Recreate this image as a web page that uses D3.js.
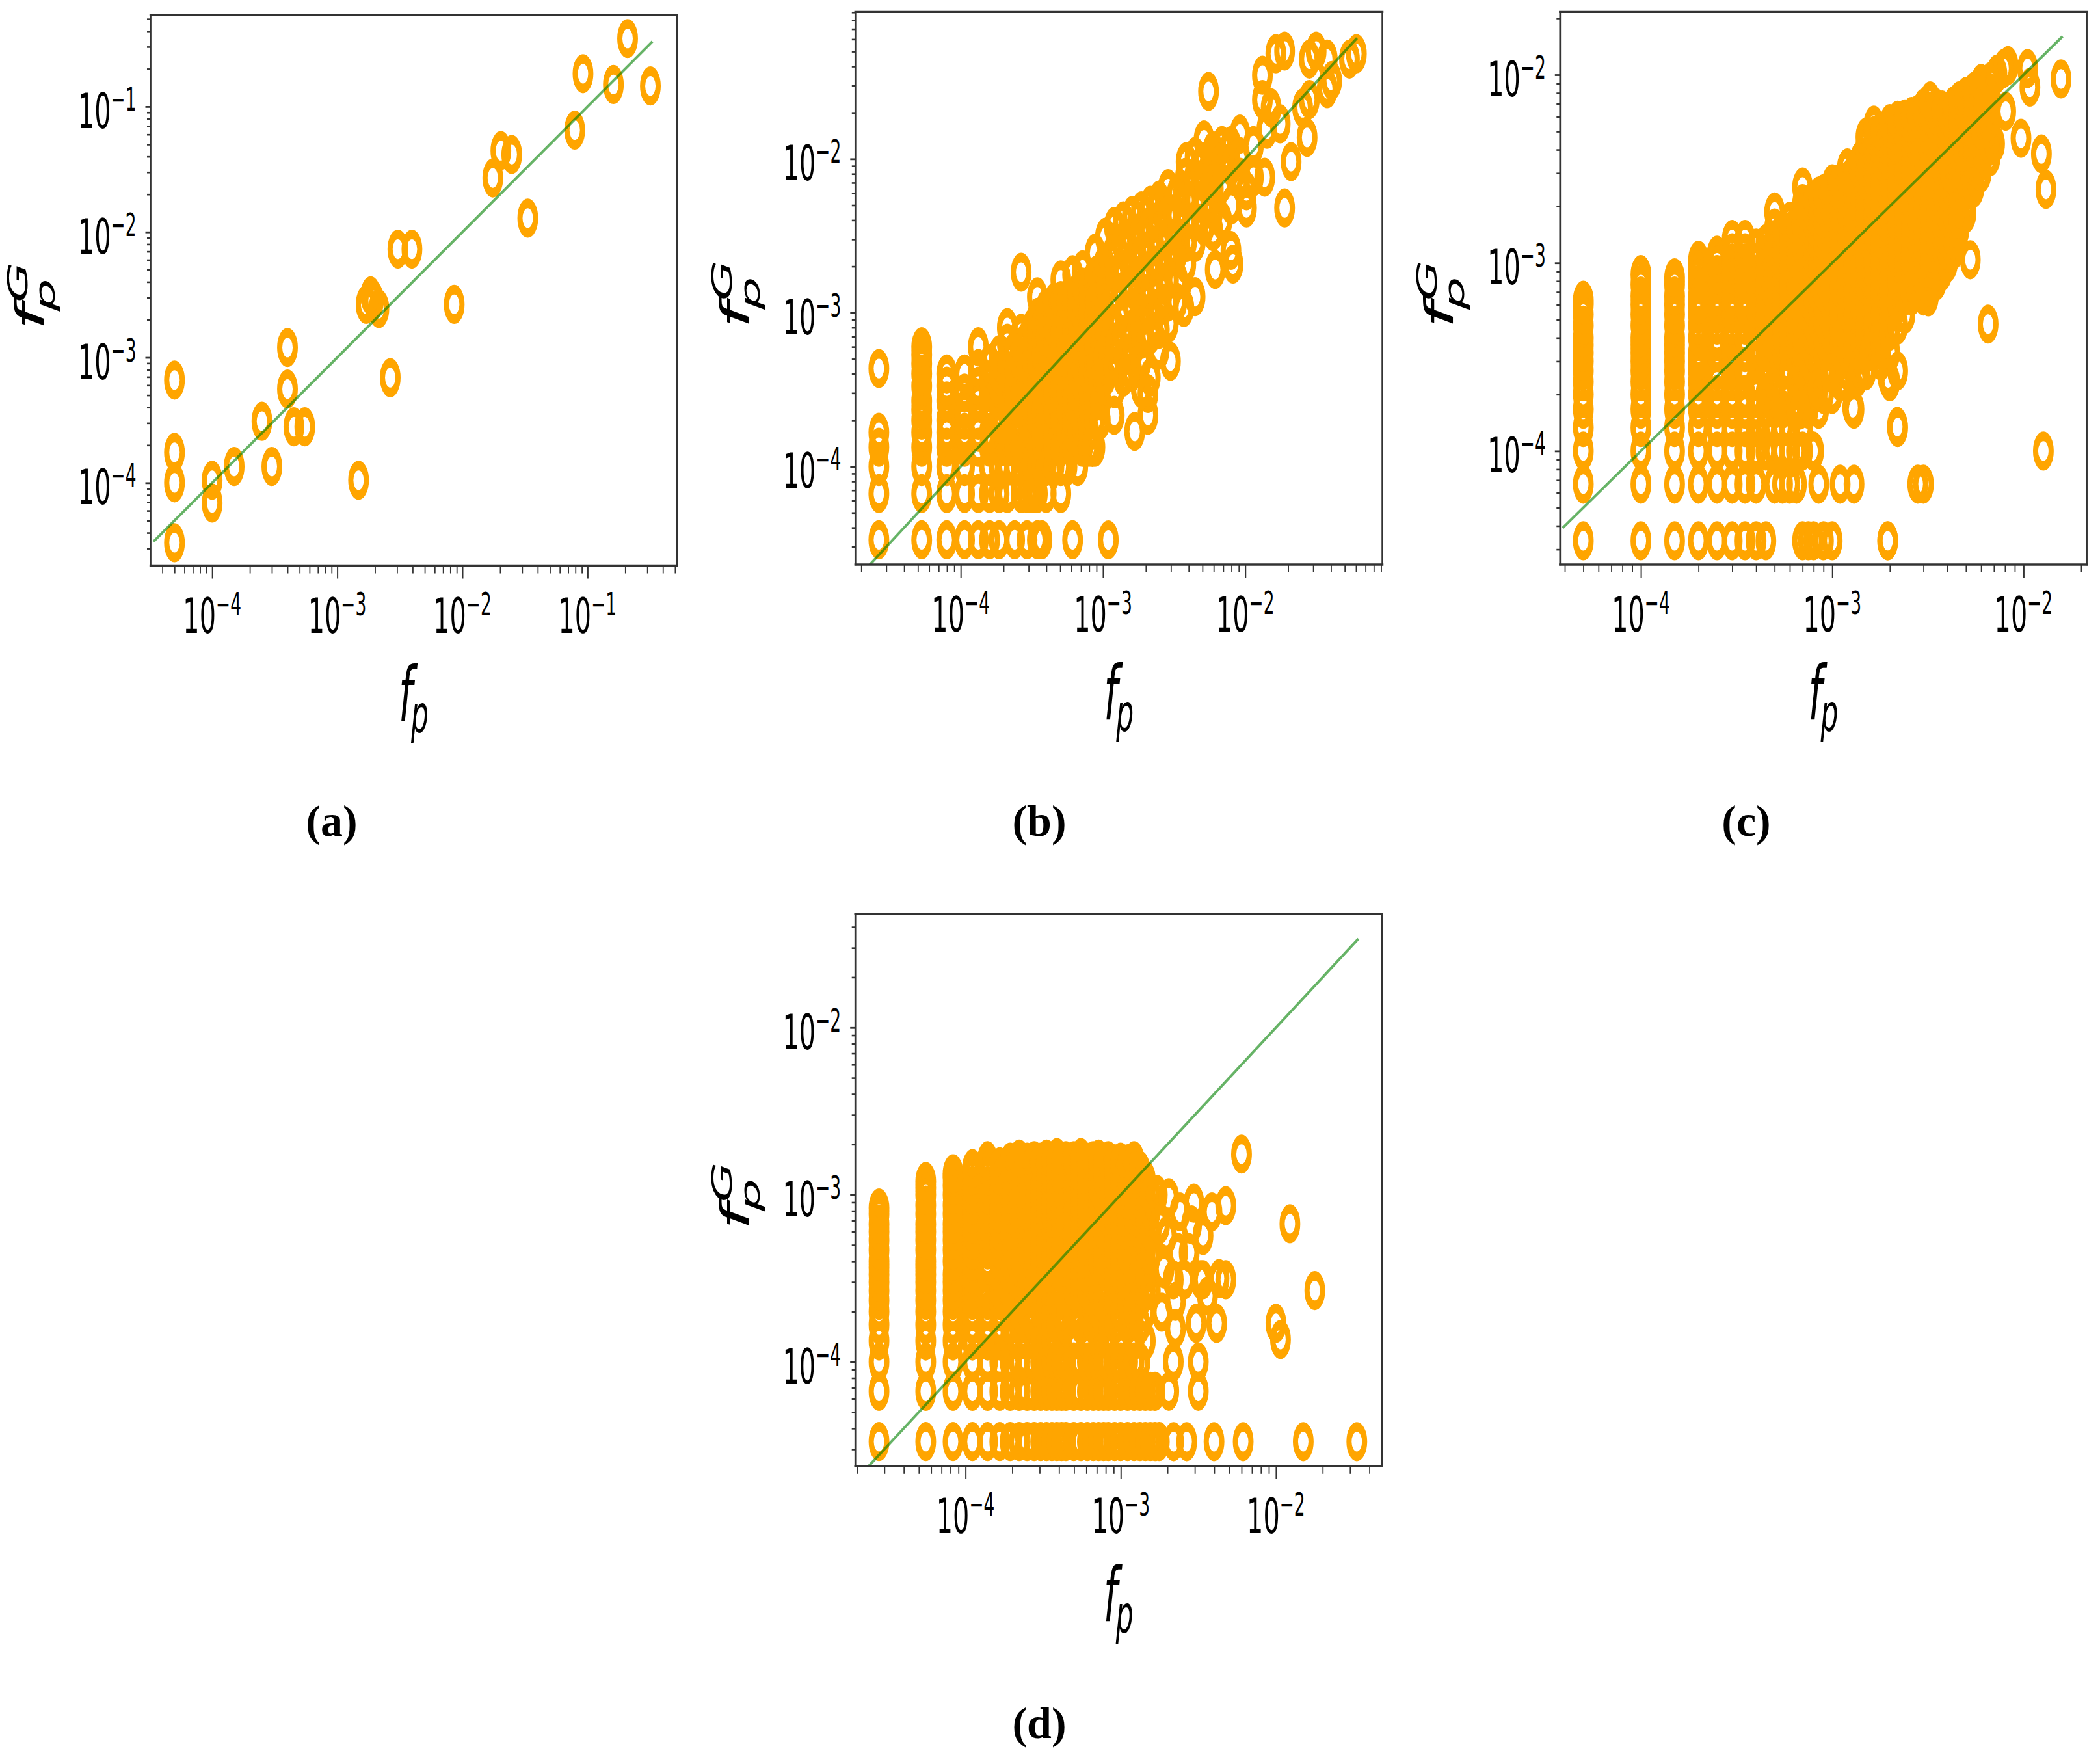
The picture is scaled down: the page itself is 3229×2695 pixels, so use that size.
<!DOCTYPE html>
<html>
<head>
<meta charset="utf-8">
<title>f_p^G against f_p</title>
<script src="https://cdn.jsdelivr.net/npm/d3@7"></script>
<style>
  body { margin: 0; background: #fff; }
</style>
</head>
<body>
<div id="chart"></div>
<script>
// ------------------------------------------------------------------
// data
// dense panels are stored as counts: column k (x = k*unitX) holding rows m (y = m*unitY)
// ------------------------------------------------------------------

// panel (a)
var aPoints = [
  [5e-5, 6.6e-4], [5e-5, 1.75e-4], [5e-5, 1.0e-4], [5e-5, 3.33e-5],
  [1e-4, 1.05e-4], [1e-4, 6.9e-5], [1.5e-4, 1.35e-4], [2.5e-4, 3.1e-4],
  [3e-4, 1.35e-4], [4e-4, 1.2e-3], [4e-4, 5.6e-4], [4.5e-4, 2.8e-4],
  [5.5e-4, 2.8e-4], [1.48e-3, 1.05e-4], [1.7e-3, 2.65e-3], [1.85e-3, 3.1e-3],
  [1.95e-3, 2.85e-3], [2.15e-3, 2.45e-3], [2.65e-3, 6.9e-4], [3.05e-3, 7.3e-3],
  [3.95e-3, 7.3e-3], [8.6e-3, 2.65e-3], [1.75e-2, 2.7e-2], [2.03e-2, 4.45e-2],
  [2.48e-2, 4.15e-2], [3.33e-2, 1.29e-2], [7.9e-2, 6.5e-2], [9.2e-2, 0.183],
  [0.161, 0.150], [0.209, 0.349], [0.318, 0.146]
];
var aLine = [3.4e-5, 0.33];
var aXTicks = [1e-4, 1e-3, 1e-2, 1e-1];
var aYTicks = [1e-4, 1e-3, 1e-2, 1e-1];

// panel (b)
var bUnitX = 2.66e-5, bUnitY = 3.333e-5;
var bColumns = [
  [1, [1,2,3,4,5,13]],
  [2, [1,2,3,4,5,6,7,8,10,12,14,16,18]],
  [3, [1,2,3,4,5,6,8,10,12]],
  [4, [1,2,3,4,5,6,7,9,12]],
  [5, [1,2,4,5,6,8,10,13,18]],
  [6, [1,2,3,4,5,7,9,11,14]],
  [7, [1,2,3,4,6,8,10,12,16]],
  [8, [2,3,4,5,7,9,12,15,19,24]],
  [9, [1,3,4,6,8,10,13,17]],
  [10, [2,3,4,5,7,9,11,14,18,22,55]],
  [11, [1,2,3,4,6,8,10,13,16,20]],
  [12, [2,3,5,7,9,12,15,19,24]],
  [13, [1,2,3,4,6,8,11,14,18,22,28,38]],
  [14, [1,3,5,7,9,12,16,20,25]],
  [15, [2,3,4,6,8,10,13,17,21,27,32]],
  [17, [3,4,5,7,9,12,15,19,24,30,35]],
  [19, [2,3,4,6,8,10,13,17,22,28,36,49]],
  [21, [3,5,7,9,12,15,19,24,30,35]],
  [23, [1,4,5,6,8,11,14,18,23,29,37,53]],
  [25, [3,5,7,9,12,16,20,26,33,41]],
  [27, [4,6,8,10,13,17,22,28,35,44,57]],
  [30, [4,5,7,9,12,15,19,24,30,38,45]],
  [33, [4,6,8,11,14,18,23,29,36,44,52]],
  [36, [6,8,10,13,17,21,27,34,42,50]]
];
var bScatter = [
  [8.8e-4,2.44e-3],[9.1e-4,1.77e-3],[8.9e-4,1.17e-3],[9.2e-4,8.5e-4],[8.8e-4,6.2e-4],[9.0e-4,4.5e-4],[9.3e-4,3.5e-4],[8.4e-4,1.33e-4],
  [1.04e-3,3.1e-3],[1.02e-3,2.07e-3],[1.06e-3,1.5e-3],[1.03e-3,1.0e-3],[1.05e-3,7.2e-4],[1.01e-3,5.2e-4],[1.04e-3,3.8e-4],[1.09e-3,3.33e-5],
  [1.2e-3,3.64e-3],[1.18e-3,2.44e-3],[1.22e-3,1.77e-3],[1.2e-3,1.27e-3],[1.17e-3,8.5e-4],[1.23e-3,6.2e-4],[1.19e-3,4.5e-4],[1.21e-3,3.2e-4],[1.2e-3,2.15e-4],
  [1.39e-3,3.95e-3],[1.36e-3,2.86e-3],[1.41e-3,1.91e-3],[1.38e-3,1.38e-3],[1.42e-3,1.0e-3],[1.37e-3,7.2e-4],[1.4e-3,5.2e-4],[1.39e-3,3.8e-4],
  [1.61e-3,4.3e-3],[1.58e-3,3.1e-3],[1.63e-3,2.24e-3],[1.6e-3,1.5e-3],[1.64e-3,1.08e-3],[1.59e-3,7.8e-4],[1.62e-3,5.7e-4],[1.6e-3,4.1e-4],[1.67e-3,1.69e-4],
  [1.86e-3,4.6e-3],[1.84e-3,3.36e-3],[1.88e-3,2.44e-3],[1.85e-3,1.77e-3],[1.89e-3,1.27e-3],[1.83e-3,9.2e-4],[1.87e-3,6.7e-4],[1.85e-3,4.8e-4],[1.86e-3,3.2e-4],
  [2.15e-3,5.0e-3],[2.12e-3,3.64e-3],[2.18e-3,2.64e-3],[2.14e-3,1.91e-3],[2.17e-3,1.38e-3],[2.13e-3,1.0e-3],[2.16e-3,7.2e-4],[2.15e-3,3.8e-4],[2.07e-3,2.98e-4],[2.07e-3,2.15e-4],
  [2.48e-3,5.4e-3],[2.45e-3,3.95e-3],[2.51e-3,2.86e-3],[2.47e-3,2.07e-3],[2.5e-3,1.5e-3],[2.46e-3,1.08e-3],[2.49e-3,7.8e-4],[2.48e-3,5.7e-4],
  [2.87e-3,6.4e-3],[2.84e-3,4.3e-3],[2.9e-3,3.1e-3],[2.86e-3,2.24e-3],[2.89e-3,1.63e-3],[2.85e-3,1.17e-3],[2.88e-3,8.5e-4],[2.98e-3,4.83e-4],
  [3.32e-3,5.9e-3],[3.3e-3,4.3e-3],[3.35e-3,3.1e-3],[3.31e-3,2.44e-3],[3.34e-3,1.63e-3],[3.3e-3,1.17e-3],
  [3.84e-3,9.6e-3],[3.8e-3,7.6e-3],[3.87e-3,5.4e-3],[3.83e-3,3.95e-3],[3.86e-3,2.86e-3],[3.82e-3,2.07e-3],[3.7e-3,1.08e-3],
  [4.44e-3,1.04e-2],[4.4e-3,7.6e-3],[4.47e-3,5.4e-3],[4.42e-3,3.95e-3],[4.45e-3,2.86e-3],[4.44e-3,1.27e-3],
  [5.13e-3,1.33e-2],[5.1e-3,9.6e-3],[5.16e-3,6.95e-3],[5.12e-3,5.0e-3],[5.14e-3,3.64e-3],
  [5.93e-3,1.13e-2],[5.9e-3,8.2e-3],[5.96e-3,6.4e-3],[5.92e-3,4.6e-3],[5.94e-3,3.36e-3],[6.15e-3,1.91e-3],
  [6.86e-3,1.22e-2],[6.83e-3,9.6e-3],[6.88e-3,6.95e-3],[6.85e-3,3.95e-3],
  [7.93e-3,1.22e-2],[7.9e-3,8.9e-3],[7.96e-3,5.0e-3],[7.93e-3,2.54e-3],[8.2e-3,2.07e-3],
  [9.17e-3,1.45e-2],[9.12e-3,1.04e-2],[9.2e-3,7.6e-3],[1.02e-2,6.2e-3],[1.02e-2,4.8e-3],
  [1.14e-2,1.22e-2],[1.14e-2,7.6e-3],[5.52e-3,2.75e-2],
  [1.32e-2,3.5e-2],[1.64e-2,4.83e-2],[1.89e-2,5.03e-2],[1.32e-2,2.43e-2],[1.52e-2,2.15e-2],[1.42e-2,1.56e-2],
  [1.76e-2,1.69e-2],[1.37e-2,7.6e-3],[1.89e-2,4.8e-3],[2.1e-2,9.6e-3],[2.53e-2,2.15e-2],[2.82e-2,2.43e-2],
  [2.72e-2,1.38e-2],[2.82e-2,4.46e-2],[3.15e-2,5.03e-2],[3.77e-2,2.86e-2],[4.05e-2,3.23e-2],[3.77e-2,4.46e-2],
  [5.4e-2,4.46e-2],[6.04e-2,4.83e-2]
];
var bLine = [2.3e-5, 0.061];
var bXTicks = [1e-4, 1e-3, 1e-2];
var bYTicks = [1e-4, 1e-3, 1e-2];

// panel (c)
var cUnitX = 5e-5, cUnitY = 3.333e-5;
var cColumns = [
  [1, [1,2,3,4,5,6,7,8,9,10,11,12,14,16,18,19]],
  [2, [1,2,3,4,5,6,7,8,9,10,11,12,14,16,18,20,23,26]],
  [3, [1,2,3,4,5,6,7,8,9,10,11,12,14,16,18,20,23,25]],
  [4, [1,2,3,4,5,6,7,8,9,10,12,14,16,18,20,23,26,28,31]],
  [5, [1,2,3,4,5,6,7,8,10,12,14,16,18,20,23,26,30,33]],
  [6, [1,2,3,4,5,6,7,8,9,10,12,14,16,18,20,23,26,30,34,40]],
  [7, [1,2,3,4,5,6,8,10,12,14,16,18,20,23,26,30,34,40]],
  [8, [1,2,3,4,5,6,7,9,11,13,15,17,20,23,26,30,36]],
  [9, [1,3,4,5,6,8,10,12,14,16,18,21,24,28,32,38]],
  [10, [2,3,4,5,7,9,11,13,15,17,20,23,26,30,35,40,46,56]],
  [11, [2,3,4,5,6,8,10,12,14,16,19,22,26,30,35,40,45]],
  [12, [2,3,4,6,8,10,12,14,16,19,22,25,29,34,39,44,50]],
  [13, [2,3,5,7,9,11,13,15,18,21,24,28,32,37,42,48]],
  [14, [1,3,4,6,8,10,12,14,17,20,23,27,31,36,41,47,54,62,76]],
  [15, [1,5,7,9,11,13,16,19,22,26,30,34,39,45,52,60]],
  [16, [1,3,6,8,10,12,14,17,20,23,27,31,36,42,48,55,65]],
  [17, [2,5,7,9,11,14,17,20,24,28,32,37,43,50,58,68]],
  [18, [1,6,8,10,12,15,18,21,25,29,34,39,45,52,60,70]],
  [20, [1,6,8,10,12,14,17,20,23,27,31,36,42,48,56,64,72,79]],
  [22, [2,7,9,11,13,16,19,22,26,30,35,40,46,53,61,70,80]],
  [24, [8,10,12,14,17,20,23,27,31,36,42,48,55,63,72,82,96]],
  [26, [2,5,9,11,13,16,19,22,26,30,35,40,46,53,61,70,80,92]],
  [28, [8,10,12,15,18,21,25,29,34,39,45,52,60,69,80,92,105]],
  [30, [8,10,12,14,17,20,23,27,31,36,42,48,55,63,72,83,95,110,125,140]],
  [33, [10,12,14,17,20,23,27,31,36,42,48,55,63,72,83,95,110,125,142,162]],
  [36, [9,11,13,16,19,22,26,30,35,40,46,53,61,70,80,92,105,120,138,150]],
  [39, [1]],
  [40, [7,10,13,16,19,22,26,30,35,40,46,53,61,70,80,92,105,120,138,155,165]],
  [44, [4,8,14,18,21,24,28,32,37,42,48,55,63,72,83,95,110,125,142,158,172]],
  [48, [16,20,23,27,31,36,42,48,55,63,72,83,95,110,125,142,160,175]],
  [52, [20,23,27,31,36,42,48,55,63,72,83,95,110,125,142,160,180]],
  [56, [2,21,25,29,34,39,45,52,60,69,80,92,105,120,138,158,185]],
  [60, [2,20,24,28,32,37,42,48,55,63,72,83,95,110,125,142,162,185,200]],
  [65, [22,26,30,35,40,46,53,61,70,80,92,105,120,138,158,180,218]],
  [70, [24,28,32,37,42,48,55,63,72,83,95,110,125,142,162,185,200]],
  [75, [27,31,36,42,48,55,63,72,83,95,110,125,142,162,185,195]],
  [80, [30,35,40,46,53,61,70,80,92,105,120,138,158,180,190]],
  [86, [35,40,46,53,61,70,80,92,105,120,138,158,180,205]],
  [92, [45,51,58,66,75,86,98,112,128,146,166,190,218]],
  [100, [55,63,72,83,95,110,125,142,162,185,210,230]],
  [110, [75,86,98,112,128,146,166,190,218,245]],
  [120, [90,103,118,135,155,178,205,240,270]],
  [134, [110,125,142,162,185,210,240,274]]
];
var cScatter = [
  [6.7e-3,9.2e-3],[7.26e-3,1.01e-2],[7.87e-3,1.08e-2],[8.3e-3,1.12e-2],[1.05e-2,1.08e-2],[1.08e-2,8.6e-3],[1.57e-2,9.5e-3],
  [9.7e-3,4.6e-3],[1.24e-2,3.8e-3],[1.31e-2,2.46e-3],[6.7e-3,5.8e-3],[7.06e-3,4.3e-3],[8.07e-3,6.4e-3],[6.03e-3,5.07e-3],
  [5.41e-3,2.54e-3],[4.61e-3,1.71e-3],[5.27e-3,1.04e-3],[6.53e-3,4.73e-4],[1.27e-2,1.0e-4],[4.15e-3,3.0e-3],[4.87e-3,3.9e-3],
  [3.18e-3,6.6e-4],[3.2e-3,8.0e-4],[2.57e-3,7.0e-4],[2.19e-3,6.2e-4],[1.58e-3,3.4e-4],[1.96e-3,2.45e-4],[2.19e-3,1.35e-4],
  [1.28e-3,1.7e-4],[1.35e-3,2.45e-4],[9.8e-4,2.6e-4],[8.4e-4,2.15e-4],[6.8e-4,1.65e-4],[7.9e-4,1.0e-4],[1.95e-3,3.33e-5]
];
var cLine = [3.9e-5, 0.016];
var cXTicks = [1e-4, 1e-3, 1e-2];
var cYTicks = [1e-4, 1e-3, 1e-2];

// panel (d)
var dUnitX = 2.77e-5, dUnitY = 3.333e-5;
var dColumns = [
  [1, [1,2,3,4,5,6,7,8,9,10,11,12,14,16,18,20,23,25]],
  [2, [1,2,3,4,5,6,7,8,9,10,11,12,14,16,18,20,23,26,30,33,36]],
  [3, [1,2,3,4,5,6,7,8,9,10,12,14,16,18,20,23,26,30,34,38,40]],
  [4, [1,2,3,4,5,6,7,8,9,10,12,14,16,18,20,23,26,30,34,39,43]],
  [5, [1,2,3,4,5,6,7,8,10,12,14,16,18,20,23,26,30,34,39,44,48]],
  [6, [1,2,3,4,5,6,7,8,9,10,12,14,16,18,20,23,26,30,34,39,44]],
  [7, [1,2,3,4,5,6,8,10,12,14,16,18,20,23,26,30,34,39,44,47]],
  [8, [1,2,3,4,5,6,7,9,11,13,15,17,20,23,26,30,34,39,44,49]],
  [9, [1,2,3,4,5,6,8,10,12,14,16,18,21,24,28,32,37,42,47]],
  [10, [1,2,3,4,5,7,9,11,13,15,17,20,23,26,30,34,39,44,48]],
  [11, [1,2,3,4,6,8,10,12,14,16,19,22,25,29,33,38,43,47]],
  [12, [1,2,3,4,5,7,9,11,13,15,17,20,23,26,30,34,39,44,49]],
  [13, [1,2,3,4,6,8,10,12,14,16,19,22,25,29,33,38,43,48]],
  [14, [1,2,3,5,7,9,11,13,15,17,20,23,26,30,34,39,44,50]],
  [15, [1,2,3,4,6,8,10,12,14,16,19,22,25,29,33,38,43,47]],
  [16, [1,2,3,5,7,9,11,13,15,18,21,24,28,32,37,42,48]],
  [18, [1,2,3,4,6,8,10,12,14,16,19,22,25,29,33,38,43,48]],
  [20, [1,2,3,5,7,9,11,13,15,17,20,23,26,30,34,39,44,50]],
  [22, [1,2,3,4,6,8,10,12,14,16,19,22,25,29,33,38,43,47]],
  [24, [1,2,3,5,7,9,11,13,15,18,21,24,28,32,37,42,48]],
  [26, [1,2,3,4,6,8,10,12,14,16,19,22,25,29,33,38,43,49]],
  [28, [1,2,3,5,7,9,11,13,15,18,21,24,28,32,37,42,47]],
  [30, [1,2,3,4,6,8,10,12,14,16,19,22,25,29,33,38,43,48]],
  [33, [1,2,3,5,7,9,11,13,15,18,21,24,28,32,37,42,46]],
  [36, [1,2,3,4,6,8,10,12,14,16,19,22,25,29,33,38,43,47]],
  [40, [1,2,3,5,7,9,11,13,15,18,21,24,28,32,37,42,46]],
  [44, [1,2,3,4,6,8,10,12,14,16,19,22,25,29,33,38,43,48]],
  [48, [1,2,3,5,7,9,11,13,15,18,21,24,28,32,37,42]],
  [52, [1,2,4,6,8,10,12,14,16,19,22,25,29,33,37]],
  [56, [1,2,8,13,18,24,30]],
  [60, [1,2]],
  [64, [1]]
];
var dScatter = [
  [6.0e-3,1.75e-3],[1.23e-2,6.7e-4],[1.78e-2,2.67e-4],[1.0e-2,1.7e-4],[1.07e-2,1.36e-4],
  [4.75e-3,8.6e-4],[3.87e-3,7.9e-4],[4.75e-3,3.1e-4],[4.3e-3,3.15e-4],[4.15e-3,1.7e-4],[3.06e-3,1.7e-4],
  [3.16e-3,1.0e-4],[3.16e-3,6.67e-5],[2.04e-3,6.67e-5],[2.18e-3,1.0e-4],
  [1.72e-3,1.0e-3],[2.04e-3,9.6e-4],[2.41e-3,7.9e-4],[2.86e-3,6.6e-4],[3.39e-3,5.7e-4],[1.97e-3,5.7e-4],[2.33e-3,4.53e-4],
  [2.58e-3,3.1e-4],[3.27e-3,3.1e-4],[3.62e-3,2.48e-4],[1.84e-3,1.98e-4],[2.25e-3,1.58e-4],[2.18e-3,3.1e-4],
  [1.78e-3,6.6e-4],[1.9e-3,3.6e-4],[2.76e-3,4.5e-4],[2.96e-3,8.9e-4],[3.39e-3,3.1e-4],[2.25e-3,2.3e-4],
  [2.19e-3,3.33e-5],[2.66e-3,3.33e-5],[3.99e-3,3.33e-5],[6.15e-3,3.33e-5],[1.5e-2,3.33e-5],[3.32e-2,3.33e-5]
];
var dLine = [2.3e-5, 0.034];
var dXTicks = [1e-4, 1e-3, 1e-2];
var dYTicks = [1e-4, 1e-3, 1e-2];

// ------------------------------------------------------------------
// helpers
// ------------------------------------------------------------------
function fromColumns(cols, unitX, unitY) {
  var out = [];
  cols.forEach(function (c) {
    c[1].forEach(function (m) { out.push([c[0] * unitX, m * unitY]); });
  });
  return out;
}

function minorTicks(dom) {
  var out = [];
  var lo = Math.floor(Math.log10(dom[0])), hi = Math.ceil(Math.log10(dom[1]));
  for (var e = lo; e <= hi; e++) {
    for (var j = 2; j <= 9; j++) {
      var v = j * Math.pow(10, e);
      if (v >= dom[0] && v <= dom[1]) out.push(v);
    }
  }
  return out;
}

// the original figures were squeezed sideways, so text and markers are narrow
var SX = 0.53;
var ORANGE = "#ffa500";
var INK = "#333";

// panel layout: frame box [left, top, right, bottom] and axis limits
var panels = [
  {id: "a", pts: aPoints, line: aLine, xTicks: aXTicks, yTicks: aYTicks,
   xDom: [3.22e-5, 0.519], yDom: [2.19e-5, 0.540],
   box: [231.5, 22.7, 1041, 869.5], caption: "(a)", cap: [510, 1285]},
  {id: "b", pts: fromColumns(bColumns, bUnitX, bUnitY).concat(bScatter), line: bLine,
   xTicks: bXTicks, yTicks: bYTicks,
   xDom: [1.82e-5, 0.0920], yDom: [2.30e-5, 0.0904],
   box: [1315.3, 18.3, 2125.6, 868], caption: "(b)", cap: [1598, 1285]},
  {id: "c", pts: fromColumns(cColumns, cUnitX, cUnitY).concat(cScatter), line: cLine,
   xTicks: cXTicks, yTicks: cYTicks,
   xDom: [3.78e-5, 0.0214], yDom: [2.49e-5, 0.0216],
   box: [2398.8, 18.3, 3208.6, 868], caption: "(c)", cap: [2685, 1285]},
  {id: "d", pts: fromColumns(dColumns, dUnitX, dUnitY).concat(dScatter), line: dLine,
   xTicks: dXTicks, yTicks: dYTicks,
   xDom: [1.95e-5, 0.0481], yDom: [2.38e-5, 0.0478],
   box: [1315.2, 1405.2, 2124.7, 2253.8], caption: "(d)", cap: [1598, 2672]}
];

var svg = d3.select("#chart").append("svg")
    .attr("width", 3229)
    .attr("height", 2695)
    .style("display", "block")
    .style("background", "#fff");

// label "10^-n" with a superscript exponent
function powerLabel(text, v) {
  var e = Math.round(Math.log10(v));
  text.append("tspan").text("10");
  text.append("tspan").attr("font-size", 50).attr("dy", -27)
      .text("\u2212" + Math.abs(e));
}

// italic piece of an axis label, placed in the label's own (unrotated) frame
function labelPiece(parent, str, px, py, size) {
  parent.append("text")
    .attr("x", px)
    .attr("y", py)
    .attr("font-family", "DejaVu Sans")
    .attr("font-style", "italic")
    .attr("font-size", size)
    .attr("fill", "#000")
    .text(str);
}

panels.forEach(function (p) {
  var left = p.box[0], top = p.box[1], right = p.box[2], bottom = p.box[3];

  var x = d3.scaleLog().domain(p.xDom).range([left, right]);
  var y = d3.scaleLog().domain(p.yDom).range([bottom, top]);

  var g = svg.append("g").attr("class", "panel-" + p.id);

  g.append("clipPath").attr("id", "clip-" + p.id)
    .append("rect")
      .attr("x", left).attr("y", top)
      .attr("width", right - left).attr("height", bottom - top);

  var marks = g.append("g").attr("clip-path", "url(#clip-" + p.id + ")");

  // open circles
  marks.selectAll("circle")
    .data(p.pts)
    .join("circle")
      .attr("r", 22.6)
      .attr("fill", "none")
      .attr("stroke", ORANGE)
      .attr("stroke-width", 15)
      .attr("transform", function (d) {
        return "translate(" + x(d[0]) + "," + y(d[1]) + ") scale(" + SX + ",1)";
      });

  // y = x reference line
  marks.append("path")
    .datum([[p.line[0], p.line[0]], [p.line[1], p.line[1]]])
    .attr("d", d3.line().x(function (d) { return x(d[0]); }).y(function (d) { return y(d[1]); }))
    .attr("fill", "none")
    .attr("stroke", "green")
    .attr("stroke-opacity", 0.6)
    .attr("stroke-width", 4);

  // tick marks
  function tickAxis(axis, tr, width) {
    g.append("g")
      .attr("transform", tr)
      .attr("color", INK)
      .call(axis)
      .call(function (s) { s.select(".domain").remove(); })
      .selectAll("line").attr("stroke-width", width);
  }
  tickAxis(d3.axisBottom(x).tickValues(p.xTicks).tickSize(20).tickFormat(""),
           "translate(0," + bottom + ")", 2);
  tickAxis(d3.axisBottom(x).tickValues(minorTicks(p.xDom)).tickSize(12).tickFormat(""),
           "translate(0," + bottom + ")", 1.8);
  tickAxis(d3.axisLeft(y).tickValues(p.yTicks).tickSize(8).tickFormat(""),
           "translate(" + left + ",0)", 2.8);
  tickAxis(d3.axisLeft(y).tickValues(minorTicks(p.yDom)).tickSize(5.5).tickFormat(""),
           "translate(" + left + ",0)", 2.6);

  // frame
  var frame = [
    [left, top, right, top, 3.3], [left, bottom, right, bottom, 3.3],
    [left, top, left, bottom, 2.7], [right, top, right, bottom, 2.7]
  ];
  g.selectAll("line.frame").data(frame).join("line")
    .attr("class", "frame")
    .attr("x1", function (d) { return d[0]; }).attr("y1", function (d) { return d[1]; })
    .attr("x2", function (d) { return d[2]; }).attr("y2", function (d) { return d[3]; })
    .attr("stroke", INK)
    .attr("stroke-width", function (d) { return d[4]; })
    .attr("stroke-linecap", "square");

  // tick labels
  p.xTicks.forEach(function (v) {
    var t = g.append("g")
        .attr("transform", "translate(" + x(v) + "," + (bottom + 103) + ") scale(" + SX + ",1)")
      .append("text")
        .attr("text-anchor", "middle")
        .attr("font-family", "DejaVu Sans")
        .attr("font-size", 75)
        .attr("fill", "#000");
    powerLabel(t, v);
  });
  p.yTicks.forEach(function (v) {
    var t = g.append("g")
        .attr("transform", "translate(" + (left - 22) + "," + (y(v) + 33) + ") scale(" + SX + ",1)")
      .append("text")
        .attr("text-anchor", "end")
        .attr("font-family", "DejaVu Sans")
        .attr("font-size", 75)
        .attr("fill", "#000");
    powerLabel(t, v);
  });

  // x axis label f_p
  var xl = g.append("g")
      .attr("transform", "translate(" + ((left + right) / 2) + "," + (bottom + 238) + ") scale(" + SX + ",1)");
  labelPiece(xl, "f", -44, 0, 115);
  labelPiece(xl, "p", -8, 18, 80);

  // y axis label f_p^G, turned to read upwards
  var yl = g.append("g")
      .attr("transform", "translate(" + (left - 164.5) + "," + ((top + bottom) / 2 + 16) + ") scale(" + SX + ",1) rotate(-90)");
  labelPiece(yl, "f", -46, 0, 115);
  labelPiece(yl, "p", -17, 32, 80);
  labelPiece(yl, "G", -3, -48, 80);

  // sub-figure caption
  g.append("text")
    .attr("x", p.cap[0])
    .attr("y", p.cap[1])
    .attr("text-anchor", "middle")
    .attr("font-family", "Liberation Serif")
    .attr("font-weight", "bold")
    .attr("font-size", 68)
    .attr("fill", "#000")
    .text(p.caption);
});
</script>
</body>
</html>
